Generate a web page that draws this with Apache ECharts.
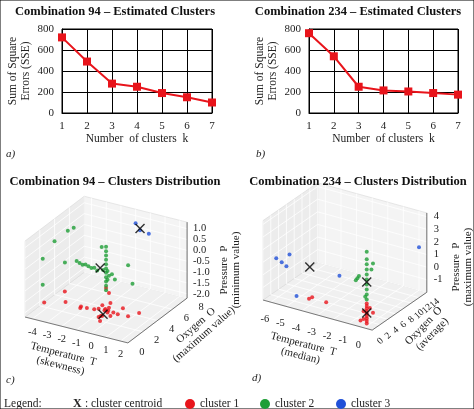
<!DOCTYPE html><html><head><meta charset="utf-8">
<script src="https://cdn.jsdelivr.net/npm/echarts@6/dist/echarts.min.js"></script>
<style>body{margin:0;background:#fff}#c{width:474px;height:409px}</style></head><body><div id="c"></div><script>
const kVals=[1,2,3,4,5,6,7];
const sseA=[720,490,280,250,190,150,100];
const sseB=[760,540,250,215,205,190,175];
// 3D scatter data: [T, O, P]
const c1Red=[[-4.2,2,-2.0],[-3.3,3,-1.6],[-3,2.5,-1.9],[-2.2,3,-2.1],[-2,2.5,-2.0],[-1.8,3,-2.1],[-1,3,-2.0],[-0.8,3.5,-2.1],[-0.6,3,-2.0],[-0.5,2.5,-2.1],[-0.4,3.2,-1.9],[-0.3,2.8,-2.0],[-0.2,3,-2.2],[-0.7,2.7,-2.2],[-0.9,3.3,-1.9],[-0.5,3.6,-1.8],[0,3,-2.0],[0.2,3.2,-2.1],[-1.2,2.8,-2.0],[-0.1,2.5,-1.8],[-0.6,2.2,-2.1],[0.5,3.3,-1.8],[1.0,3,-2.0],[1.5,3.5,-1.9],[-0.8,4,-1.5],[-1,4,-1.3],[-0.4,2,-2.2]];
const c1Green=[[-1.0,4,-1.4],[-1.0,4,-1.2],[-1.0,4,-1.0],[-1.0,4,-0.8],[-1.0,4,-0.6],[-1.0,4,-0.4],[-1.0,4,-0.2],[-1.0,4,0.0],[-1.0,4,0.2],[-1.0,4,0.4],[-1.0,4,0.6],[-0.9,4,-0.9],[-0.9,4,-0.5],[-0.8,4,-0.7],[-0.6,4,-0.6],[-0.4,4,-0.8],[-1.2,4,-0.5],[-3.0,4,-0.4],[-2.8,4,-0.45],[-2.6,4,-0.5],[-2.4,4,-0.45],[-2.2,4,-0.5],[-2.0,4,-0.55],[-1.8,4,-0.5],[-1.6,4,-0.6],[-4.3,2,0.0],[-4.0,3,0.6],[-3.6,4,0.9],[-3.2,4,1.1],[-4.3,2,-1.2],[-3.8,4,-0.6],[0.5,4,0],[0.8,4,-0.8],[-1.8,5,0.2]];
const c1Blue=[[-0.2,7,0.73],[-0.5,7,1.0],[0.3,7.2,0.6]];
const c1Cent=[[-0.7,3,-2.2],[-1.4,4,-0.45],[-0.2,7,0.8]];
const d1Red=[[-0.1,1,-1.9],[-0.1,1,-1.7],[-0.1,1,-1.5],[-0.1,1,-1.3],[-0.1,1,-1.1],[-0.1,1,-0.9],[-0.1,1,-0.7],[-0.1,1,-0.5],[-0.1,1,-0.3],[-0.3,1,-1.6],[-0.3,1,-1.0],[0.1,1,-0.6],[-2.7,1,-1.1],[-3.6,1,-1.0],[-3.8,1,-1.2],[-0.5,1,-1.8],[0.3,1,-0.9]];
const d1Green=[[-0.1,1,0],[-0.1,1,0.4],[-0.1,1,0.8],[-0.1,1,1.2],[-0.1,1,1.6],[-0.1,1,2.0],[-0.1,1,2.4],[-0.1,1,2.8],[-0.1,1,3.2],[-0.1,1,3.8],[-0.7,1,1.5],[-0.8,1,1.3],[-0.6,1,1.7],[0.2,1,2.5],[0.3,1,3.0],[-0.2,1,0.2]];
const d1Blue=[[-5.8,2,0.8],[-5.5,2,0.6],[-5.9,1,1.3],[-5.3,2,1.6],[-4.6,1,-1.25],[-3.1,6,-0.2],[0,14,1.4]];
const d1Cent=[[-0.1,1,-1.06],[-0.1,1,1.4],[-4.5,4,0.45]];
const tTicksC=[-4,-3,-2,-1,0,1,2], oTicksC=[0,2,4,6,8], pTicksC=[-2,-1.5,-1,-0.5,0,0.5,1];
const tTicksD=[-6,-5,-4,-3,-2,-1,0], oTicksD=[0,2,4,6,8,10,12,14], pTicksD=[-1,0,1,2,3,4];

const F='Liberation Serif';
const PC={x0:25,y0:317,T:[-4.5,2.5],O:[0,8],P:[-2.2,1.3],tv:[14.7,3.7],ov:[7.4,-5.6],pz:21.7};
const PD={x0:263,y0:300,T:[-6.5,0.5],O:[0,14],P:[-2,4.3],tv:[15.6,4.3],ov:[3.9,-2.7],pz:12.6};
function pr(c,T,O,P){const t=T-c.T[0],o=O-c.O[0],p=P-c.P[0];return [c.x0+t*c.tv[0]+o*c.ov[0], c.y0+t*c.tv[1]+o*c.ov[1]-p*c.pz];}
const RED='#e8141b',GRN='#1e9e36',BLU='#2050d8';
const X='path://M0,1L1,0L5,4L9,0L10,1L6,5L10,9L9,10L5,6L1,10L0,9L4,5Z';
const g=[];
function poly(pts,fill){g.push({type:'polygon',shape:{points:pts},style:{fill:fill,stroke:'#d8d8d8',lineWidth:0.6},z:0,silent:true});}
function line(a,b,col,w){g.push({type:'line',shape:{x1:a[0],y1:a[1],x2:b[0],y2:b[1]},style:{stroke:col||'#dcdcdc',lineWidth:w||0.6},z:1,silent:true});}
function txt(x,y,s,o){g.push({type:'text',x:x,y:y,style:Object.assign({text:s,font:'12px '+F,fill:'#222',align:'center',verticalAlign:'middle'},o&&o.style||{}),rotation:o&&o.rot||0,z:5});}
function box(c,tt,ot,pt){
  const [t0,t1]=c.T,[o0,o1]=c.O,[p0,p1]=c.P;
  poly([pr(c,t0,o0,p0),pr(c,t1,o0,p0),pr(c,t1,o1,p0),pr(c,t0,o1,p0)],'#f0f0f0');
  poly([pr(c,t0,o1,p0),pr(c,t1,o1,p0),pr(c,t1,o1,p1),pr(c,t0,o1,p1)],'#f4f4f4');
  poly([pr(c,t0,o0,p0),pr(c,t0,o1,p0),pr(c,t0,o1,p1),pr(c,t0,o0,p1)],'#ececec');
  tt.forEach(t=>{line(pr(c,t,o0,p0),pr(c,t,o1,p0),'#fff',0.8);line(pr(c,t,o1,p0),pr(c,t,o1,p1),'#fff',0.8);});
  ot.forEach(o=>{line(pr(c,t0,o,p0),pr(c,t1,o,p0),'#fff',0.8);line(pr(c,t0,o,p0),pr(c,t0,o,p1),'#fff',0.8);});
  pt.forEach(p=>{line(pr(c,t0,o1,p),pr(c,t1,o1,p),'#fff',0.8);line(pr(c,t0,o0,p),pr(c,t0,o1,p),'#fff',0.8);});
  line(pr(c,t0,o0,p0),pr(c,t1,o0,p0),'#555',0.8);line(pr(c,t1,o0,p0),pr(c,t1,o1,p0),'#555',0.8);line(pr(c,t1,o1,p0),pr(c,t1,o1,p1),'#555',0.8);
}
box(PC,tTicksC,oTicksC,pTicksC);box(PD,tTicksD,oTicksD,pTicksD);
const S={font:'10.5px '+F};
tTicksC.forEach(t=>{const q=pr(PC,t,0,PC.P[0]);txt(q[0],q[1]+13,String(t),{style:S});});
oTicksC.forEach(o=>{const q=pr(PC,PC.T[1],o,PC.P[0]);txt(q[0]+14,q[1]+9,String(o),{style:S});});
pTicksC.forEach(p=>{const q=pr(PC,PC.T[1],PC.O[1],p);txt(q[0]+6,q[1],p.toFixed(1),{style:{font:'10.5px '+F,align:'left'}});});
tTicksD.forEach(t=>{const q=pr(PD,t,0,PD.P[0]);txt(q[0]-6,q[1]+17,String(t),{style:S});});
oTicksD.forEach(o=>{const q=pr(PD,PD.T[1],o,PD.P[0]);txt(q[0]+8,q[1]+11,String(o),{style:{font:'9.5px '+F},rot:0.75});});
pTicksD.forEach(p=>{const q=pr(PD,PD.T[1],PD.O[1],p);txt(q[0]+7,q[1],String(p),{style:{font:'10.5px '+F,align:'left'}});});
const N={lineHeight:12,font:'11px '+F};
txt(62,360,'Temperature  T\n(skewness)',{rot:-0.25,style:N});
txt(200,330,'Oxygen  O\n(maximum value)',{rot:0.72,style:N});
txt(230,270,'Pressure  P\n(minimum value)',{rot:Math.PI/2,style:N});
txt(302,350,'Temperature  T\n(median)',{rot:-0.25,style:N});
txt(428,330,'Oxygen  O\n(average)',{rot:0.8,style:N});
txt(462,267,'Pressure  P\n(maximum value)',{rot:Math.PI/2,style:N});
const B={font:'bold 12.5px '+F,fill:'#111'};
txt(115,12,'Combination 94 – Estimated Clusters',{style:B});
txt(358,12,'Combination 234 – Estimated Clusters',{style:B});
txt(115,182,'Combination 94 – Clusters Distribution',{style:B});
txt(358,182,'Combination 234 – Clusters Distribution',{style:B});
const I={font:'italic 11px '+F,align:'left'};
txt(6,154,'a)',{style:I});txt(256,154,'b)',{style:I});txt(6,380,'c)',{style:I});txt(252,378,'d)',{style:I});
const L={font:'11.5px '+F,align:'left'};
txt(4,404,'Legend:',{style:L});txt(73,404,'X',{style:{font:'bold 12px '+F,align:'left'}});txt(82,404,' : cluster centroid',{style:L});
[[RED,190,'cluster 1'],[GRN,265,'cluster 2'],[BLU,341,'cluster 3']].forEach(a=>{g.push({type:'circle',shape:{cx:a[1],cy:404,r:5},style:{fill:a[0]},z:5});txt(a[1]+10,404,a[2],{style:L});});

function sc(c,d,col,sym,size){return {type:'scatter',xAxisIndex:2,yAxisIndex:2,data:d.map(v=>pr(c,v[0],v[1],v[2])),symbol:sym||'circle',symbolSize:size||4,itemStyle:{color:col},z:3,silent:true};}
const axStyle={axisLine:{lineStyle:{color:'#000'}},axisTick:{show:false},axisLabel:{color:'#222',fontFamily:F,fontSize:11},splitLine:{lineStyle:{color:'#000',width:1}}};
const grids=[{left:62,top:29,width:150,height:84},{left:309,top:29,width:149,height:84},{left:0,top:0,width:474,height:409}];
function xa(i){return Object.assign({type:'value',gridIndex:i,min:1,max:7,interval:1,name:'Number  of clusters  k',nameLocation:'middle',nameGap:20,nameTextStyle:{fontFamily:F,fontSize:11.5,color:'#222'}},axStyle);}
function ya(i){return Object.assign({type:'value',gridIndex:i,min:0,max:800,interval:200,name:'Sum of Square\nErrors (SSE)',nameLocation:'middle',nameGap:30,nameTextStyle:{fontFamily:F,fontSize:11.5,color:'#222',lineHeight:13}},axStyle);}
function ln(i,v){return {type:'line',xAxisIndex:i,yAxisIndex:i,data:kVals.map((k,j)=>[k,v[j]]),symbol:'rect',symbolSize:8,itemStyle:{color:RED},lineStyle:{color:RED,width:2},z:4};}
const chart=echarts.init(document.getElementById('c'));
chart.setOption({animation:false,grid:grids.map(x=>Object.assign({show:true,borderColor:'#000',borderWidth:1},x)),
xAxis:[xa(0),xa(1),{type:'value',gridIndex:2,min:0,max:474,show:false}],
yAxis:[ya(0),ya(1),{type:'value',gridIndex:2,min:0,max:409,inverse:true,show:false}],
series:[ln(0,sseA),ln(1,sseB),
sc(PC,c1Red,RED),sc(PC,c1Green,GRN),sc(PC,c1Blue,BLU),sc(PC,c1Cent,'#000',X,10),
sc(PD,d1Red,RED),sc(PD,d1Green,GRN),sc(PD,d1Blue,BLU),sc(PD,d1Cent,'#000',X,10)],
graphic:g});
</script></body></html>
